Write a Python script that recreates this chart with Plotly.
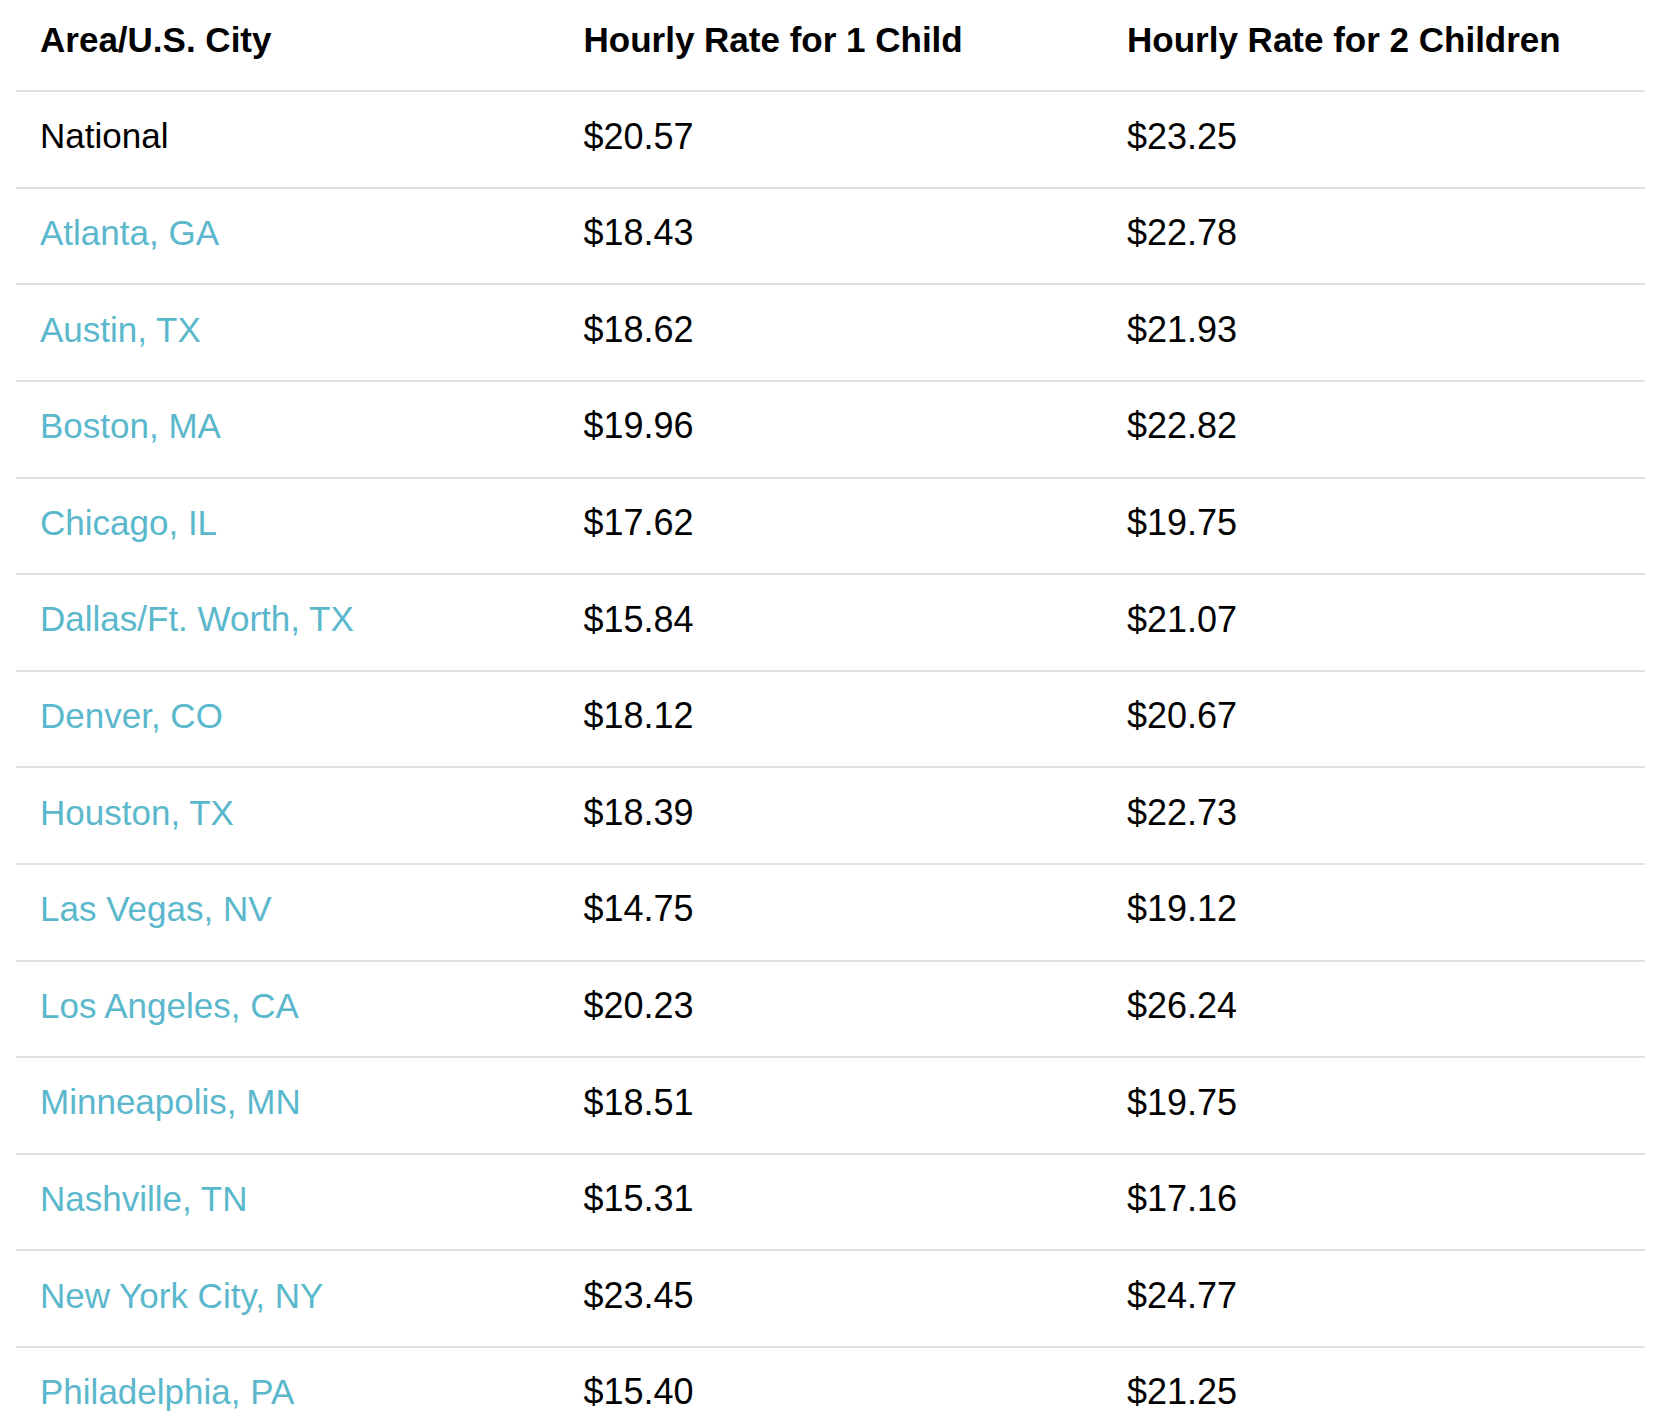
import plotly.graph_objects as go

headers = ["Area/U.S. City", "Hourly Rate for 1 Child", "Hourly Rate for 2 Children"]
areas = ["National", "Atlanta, GA", "Austin, TX", "Boston, MA", "Chicago, IL",
         "Dallas/Ft. Worth, TX", "Denver, CO", "Houston, TX", "Las Vegas, NV",
         "Los Angeles, CA", "Minneapolis, MN", "Nashville, TN", "New York City, NY",
         "Philadelphia, PA"]
rate_1_child = [20.57, 18.43, 18.62, 19.96, 17.62, 15.84, 18.12, 18.39, 14.75,
                20.23, 18.51, 15.31, 23.45, 15.40]
rate_2_children = [23.25, 22.78, 21.93, 22.82, 19.75, 21.07, 20.67, 22.73, 19.12,
                   26.24, 19.75, 17.16, 24.77, 21.25]

TEAL = "#5bb8cc"
FONT = "Liberation Sans, Arial, sans-serif"
rows = list(range(1, len(areas) + 1))

fig = go.Figure()
# header row
fig.add_trace(go.Scatter(
    x=[0, 1, 2], y=[0, 0, 0], mode="text", text=["<b>%s</b>" % h for h in headers],
    textposition="middle right", textfont=dict(size=35, color="black", family=FONT),
    hoverinfo="skip"))
# area names: first (National) black, others link-coloured
fig.add_trace(go.Scatter(
    x=[0] * len(areas), y=rows, mode="text", text=areas,
    textposition="middle right",
    textfont=dict(size=35, family=FONT,
                  color=["black"] + [TEAL] * (len(areas) - 1)),
    hoverinfo="skip"))
fig.add_trace(go.Scatter(
    x=[1] * len(areas), y=rows, mode="text", text=["$%.2f" % v for v in rate_1_child],
    textposition="middle right", textfont=dict(size=36, color="black", family=FONT),
    hoverinfo="skip"))
fig.add_trace(go.Scatter(
    x=[2] * len(areas), y=rows, mode="text", text=["$%.2f" % v for v in rate_2_children],
    textposition="middle right", textfont=dict(size=36, color="black", family=FONT),
    hoverinfo="skip"))

fig.update_layout(
    width=1660, height=1426, showlegend=False,
    margin=dict(l=8, r=23, t=0, b=0),
    paper_bgcolor="white", plot_bgcolor="white",
    xaxis=dict(range=[-0.0442, 2.953], visible=False, fixedrange=True),
    yaxis=dict(range=[14.40, -0.362], tickvals=[i + 0.5 for i in range(len(areas))],
               showticklabels=False, showgrid=True, gridcolor="#dde1e6", gridwidth=2,
               zeroline=False, showline=False, ticks="", fixedrange=True),
)

fig.write_html("out.html")
